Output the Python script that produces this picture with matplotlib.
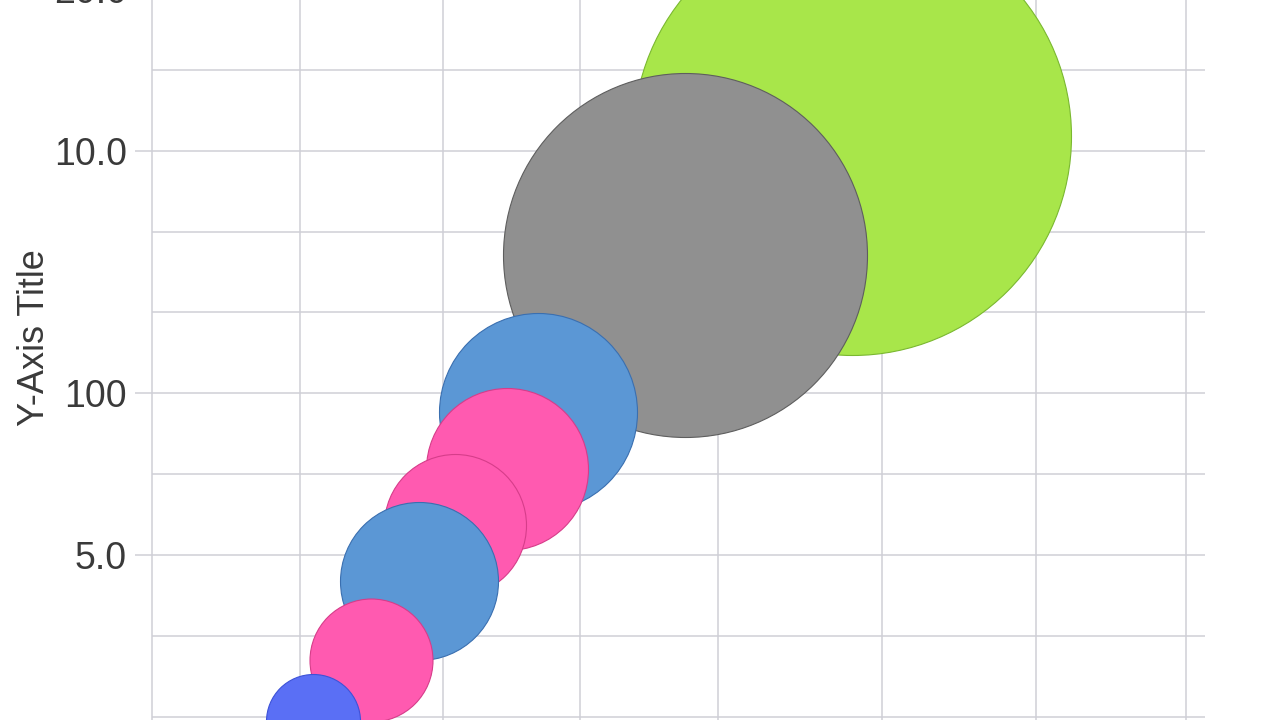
import matplotlib
matplotlib.use("Agg")
import matplotlib.pyplot as plt
from matplotlib.ticker import FixedLocator, FixedFormatter

# bubble data
x_vals = [1.070, 1.459, 1.775, 2.014, 2.357, 2.566, 3.540, 4.653]
y_vals = [2.946, 3.694, 4.678, 5.371, 6.064, 6.770, 8.707, 10.186]
bubble_size = [47, 61.5, 79, 71, 81, 99, 182, 219]
fill_colors = ["#5a6ff5", "#ff5ab0", "#5b97d5", "#ff5ab0", "#ff5ab0",
               "#5b97d5", "#909090", "#a8e64a"]
edge_colors = ["#3d52d8", "#d63d8a", "#3a6fb0", "#d63d8a", "#d63d8a",
               "#3a6fb0", "#5e5e5e", "#7ab830"]

# axis ticks
y_tick_pos = [5, 7, 10, 12]
y_tick_labels = ["5.0", "100", "10.0", "20.0"]
y_grid_pos = [3, 4, 6, 8, 9, 11]
x_grid_pos = [0.984, 1.935, 2.846, 3.763, 4.854, 5.878, 6.875]

grid_color = "#cfcfd6"
text_color = "#3a3a3a"

plt.rcParams["font.family"] = ["Liberation Sans", "DejaVu Sans"]

fig = plt.figure(figsize=(12.8, 7.2), dpi=100)
# axes runs past the top and bottom of the picture
ax = fig.add_axes([152 / 1280, -0.1075, 1053 / 1280, 1.2347])
ax.set_xlim(0, 7)
ax.set_ylim(2, 13)

# last point first, so each lower-left bubble sits on top of the next one
for i in reversed(range(len(x_vals))):
    ax.scatter(x_vals[i], y_vals[i], s=(2 * bubble_size[i] * 0.72) ** 2,
               color=fill_colors[i], edgecolors=edge_colors[i],
               linewidths=0.8, zorder=3)

ax.yaxis.set_major_locator(FixedLocator(y_tick_pos))
ax.yaxis.set_major_formatter(FixedFormatter(y_tick_labels))
ax.yaxis.set_minor_locator(FixedLocator(y_grid_pos))
ax.xaxis.set_major_locator(FixedLocator(x_grid_pos))
ax.set_xticklabels([])

ax.grid(True, which="both", color=grid_color, linewidth=1.1, zorder=0)
ax.set_axisbelow(True)
ax.tick_params(axis="y", which="major", length=12, width=1.1,
               color=grid_color, labelsize=27, labelcolor=text_color, pad=6)
ax.tick_params(axis="y", which="minor", length=0)
ax.tick_params(axis="x", length=0)

for side in ["top", "right", "bottom"]:
    ax.spines[side].set_visible(False)
ax.spines["left"].set_color(grid_color)
ax.spines["left"].set_linewidth(1.1)

fig.text(35 / 1280, 1 - 338 / 720, "Y-Axis Title", rotation=90,
         ha="center", va="center", fontsize=26, color=text_color)

fig.savefig("out.png", dpi=100)
